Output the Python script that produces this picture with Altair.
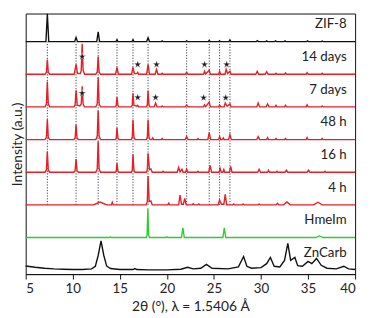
import altair as alt
import pandas as pd

# ---------------- data ----------------
TRACE_NAMES = ["ZIF-8", "14 days", "7 days", "48 h", "16 h", "4 h", "HmeIm", "ZnCarb"]
TRACE_COLORS = ["#111111", "#e41f26", "#e41f26", "#e41f26", "#e41f26", "#e41f26", "#2ecc2e", "#111111"]

# (2theta, relative intensity above each pattern's own baseline)
ZIF8 = [(5.0, 0), (7.15, 0), (7.3, 0.85), (7.45, 0), (10.2, 0), (10.35, 0.13), (10.5, 0),
        (12.55, 0), (12.7, 0.30), (12.85, 0), (14.6, 0), (14.7, 0.06), (14.8, 0),
        (16.3, 0), (16.4, 0.06), (16.5, 0), (17.85, 0), (18.0, 0.12), (18.15, 0),
        (19.4, 0), (19.5, 0.02), (19.6, 0), (22.0, 0), (22.1, 0.03), (22.2, 0),
        (24.4, 0), (24.5, 0.04), (24.6, 0), (25.5, 0), (25.6, 0.03), (25.7, 0),
        (26.6, 0), (26.7, 0.05), (26.8, 0), (29.5, 0), (29.6, 0.03), (29.75, 0),
        (30.5, 0), (30.6, 0.02), (30.7, 0), (31.45, 0), (31.55, 0.02), (31.65, 0),
        (32.45, 0), (32.55, 0.02), (32.65, 0), (34.85, 0), (34.95, 0.02), (35.05, 0),
        (36.4, 0), (36.5, 0.015), (36.6, 0), (40.0, 0)]

D14 = [(5.0, 0), (7.05, 0), (7.2, 0.06), (7.3, 0.45), (7.4, 0.06), (7.55, 0),
       (10.15, 0), (10.35, 0.30), (10.5, 0.03), (10.8, 0.02), (10.9, 0.12), (11.0, 0.93),
       (11.1, 0.12), (11.25, 0), (12.45, 0), (12.6, 0.07), (12.7, 0.54), (12.8, 0.07),
       (12.95, 0), (14.55, 0), (14.7, 0.21), (14.85, 0), (16.25, 0), (16.4, 0.21),
       (16.55, 0.02), (16.8, 0.02), (16.9, 0.06), (17.0, 0), (17.85, 0), (18.0, 0.30),
       (18.15, 0), (18.75, 0), (18.9, 0.15), (19.05, 0), (19.4, 0), (19.5, 0.03),
       (19.6, 0), (21.95, 0), (22.1, 0.06), (22.25, 0), (23.9, 0), (24.0, 0.09),
       (24.12, 0.01), (24.5, 0.12), (24.62, 0), (25.5, 0), (25.6, 0.09), (25.72, 0),
       (26.18, 0), (26.3, 0.15), (26.45, 0.02), (26.7, 0.09), (26.82, 0), (29.45, 0),
       (29.6, 0.09), (29.75, 0), (30.45, 0), (30.6, 0.08), (30.75, 0), (31.5, 0),
       (31.6, 0.03), (31.7, 0), (32.5, 0), (32.6, 0.04), (32.7, 0), (34.8, 0),
       (34.9, 0.05), (35.0, 0), (36.4, 0), (36.5, 0.03), (36.6, 0), (40.0, 0)]

D7 = [(5.0, 0), (7.05, 0), (7.2, 0.09), (7.3, 0.78), (7.4, 0.09), (7.55, 0),
      (10.12, 0), (10.25, 0.06), (10.35, 0.51), (10.48, 0.05), (10.75, 0.03),
      (10.9, 0.09), (11.0, 0.63), (11.1, 0.09), (11.25, 0), (12.45, 0), (12.6, 0.1),
      (12.7, 0.90), (12.8, 0.1), (12.95, 0), (14.52, 0), (14.62, 0.04), (14.7, 0.30),
      (14.8, 0.04), (14.9, 0), (16.22, 0), (16.32, 0.05), (16.4, 0.42), (16.5, 0.05),
      (16.8, 0.02), (16.9, 0.05), (17.0, 0), (17.82, 0), (17.92, 0.06), (18.0, 0.50),
      (18.1, 0.06), (18.2, 0), (18.65, 0), (18.8, 0.12), (18.95, 0), (19.4, 0),
      (19.5, 0.03), (19.6, 0), (21.95, 0), (22.1, 0.06), (22.25, 0), (23.9, 0),
      (24.0, 0.06), (24.12, 0.01), (24.5, 0.15), (24.62, 0), (25.5, 0), (25.6, 0.06),
      (25.72, 0), (26.08, 0), (26.2, 0.12), (26.4, 0.02), (26.7, 0.09), (26.82, 0),
      (29.55, 0), (29.7, 0.12), (29.85, 0), (30.55, 0), (30.7, 0.09), (30.85, 0),
      (31.5, 0), (31.6, 0.05), (31.7, 0), (32.5, 0), (32.6, 0.05), (32.7, 0),
      (34.8, 0), (34.9, 0.06), (35.0, 0), (36.4, 0), (36.5, 0.03), (36.6, 0), (40.0, 0)]

H48 = [(5.0, 0), (7.05, 0), (7.2, 0.07), (7.3, 0.62), (7.4, 0.07), (7.55, 0),
       (10.12, 0), (10.25, 0.05), (10.35, 0.45), (10.45, 0.05), (10.6, 0),
       (12.45, 0), (12.6, 0.1), (12.7, 0.88), (12.8, 0.1), (12.95, 0), (14.52, 0),
       (14.62, 0.04), (14.7, 0.36), (14.8, 0.04), (14.9, 0), (16.22, 0), (16.32, 0.07),
       (16.4, 0.60), (16.5, 0.07), (16.62, 0), (17.82, 0), (17.92, 0.07), (18.0, 0.60),
       (18.1, 0.07), (18.22, 0), (18.4, 0), (18.5, 0.05), (18.6, 0), (19.4, 0),
       (19.5, 0.03), (19.6, 0), (21.95, 0), (22.1, 0.09), (22.25, 0), (23.2, 0),
       (23.3, 0.03), (23.4, 0), (24.35, 0), (24.5, 0.21), (24.65, 0), (25.5, 0),
       (25.6, 0.09), (25.72, 0), (25.9, 0), (26.0, 0.05), (26.1, 0), (26.55, 0),
       (26.7, 0.15), (26.85, 0), (29.55, 0), (29.7, 0.09), (29.85, 0), (30.6, 0),
       (30.7, 0.06), (30.8, 0), (31.5, 0), (31.6, 0.03), (31.7, 0), (32.5, 0),
       (32.6, 0.03), (32.7, 0), (34.8, 0), (34.9, 0.06), (35.0, 0), (36.4, 0),
       (36.5, 0.03), (36.6, 0), (40.0, 0)]

H16 = [(5.0, 0), (7.05, 0), (7.2, 0.07), (7.3, 0.63), (7.4, 0.07), (7.55, 0),
       (10.12, 0), (10.25, 0.05), (10.35, 0.40), (10.45, 0.05), (10.6, 0),
       (12.45, 0), (12.6, 0.1), (12.7, 0.95), (12.8, 0.1), (12.95, 0), (14.52, 0),
       (14.62, 0.03), (14.7, 0.28), (14.8, 0.03), (14.9, 0), (16.22, 0), (16.32, 0.06),
       (16.4, 0.55), (16.5, 0.06), (16.62, 0), (17.82, 0), (17.92, 0.07), (18.0, 0.58),
       (18.15, 0.08), (18.3, 0.10), (18.45, 0), (19.5, 0), (19.6, 0.03), (19.7, 0),
       (21.1, 0), (21.25, 0.15), (21.4, 0.01), (21.6, 0.09), (21.72, 0), (21.98, 0),
       (22.1, 0.09), (22.22, 0), (23.2, 0), (23.3, 0.03), (23.4, 0), (24.45, 0),
       (24.6, 0.21), (24.75, 0), (25.55, 0), (25.65, 0.12), (25.78, 0), (25.95, 0),
       (26.05, 0.08), (26.15, 0), (26.65, 0), (26.78, 0.18), (26.92, 0), (29.65, 0),
       (29.8, 0.09), (29.95, 0), (30.7, 0), (30.8, 0.06), (30.9, 0), (31.6, 0),
       (31.7, 0.03), (31.8, 0), (32.55, 0), (32.7, 0.06), (32.85, 0), (34.9, 0),
       (35.05, 0.06), (35.2, 0), (36.7, 0), (36.8, 0.03), (36.9, 0), (40.0, 0)]

H4 = [(5.0, 0), (12.2, 0), (12.6, 0.05), (12.9, 0.09), (13.2, 0.05), (13.6, 0),
      (14.1, 0), (14.2, 0.08), (14.3, 0), (17.8, 0), (17.92, 0.1), (18.0, 0.88),
      (18.12, 0.1), (18.3, 0.12), (18.45, 0), (20.1, 0), (20.2, 0.05), (20.3, 0),
      (21.25, 0), (21.4, 0.30), (21.55, 0.02), (21.75, 0.02), (21.9, 0.20), (22.05, 0),
      (22.7, 0), (22.8, 0.04), (22.9, 0), (23.3, 0), (23.4, 0.03), (23.5, 0),
      (25.45, 0), (25.6, 0.15), (25.8, 0.02), (26.05, 0.02), (26.2, 0.32), (26.35, 0),
      (27.0, 0), (27.1, 0.03), (27.2, 0), (28.0, 0), (28.1, 0.03), (28.2, 0),
      (29.7, 0), (29.8, 0.03), (29.9, 0), (31.6, 0), (31.75, 0.05), (31.9, 0),
      (32.4, 0), (32.75, 0.09), (33.1, 0), (35.6, 0), (36.05, 0.08), (36.5, 0), (40.0, 0)]

HMEIM = [(5.0, 0), (13.9, 0), (14.0, 0.02), (14.1, 0), (17.82, 0), (17.9, 0.08),
         (17.98, 0.90), (18.06, 0.08), (18.15, 0), (19.9, 0), (20.0, 0.02), (20.1, 0),
         (21.55, 0), (21.7, 0.30), (21.85, 0), (25.95, 0), (26.1, 0.30), (26.25, 0),
         (35.8, 0), (36.2, 0.05), (36.6, 0), (40.0, 0)]

ZNCARB = [(5.0, 0.13), (6.0, 0.09), (7.0, 0.06), (8.0, 0.04), (9.0, 0.03), (10.0, 0.02),
          (11.0, 0.02), (12.0, 0.04), (12.4, 0.12), (12.7, 0.45), (13.0, 0.90), (13.3, 0.45),
          (13.6, 0.13), (14.0, 0.05), (15.0, 0.02), (16.4, 0.02), (16.6, 0.05), (16.8, 0.02),
          (18.0, 0.01), (20.0, 0.01), (21.5, 0.03), (22.2, 0.09), (22.8, 0.04), (23.6, 0.06),
          (24.2, 0.18), (24.8, 0.06), (26.5, 0.04), (27.6, 0.10), (28.15, 0.42), (28.5, 0.12),
          (29.0, 0.06), (30.0, 0.08), (30.6, 0.20), (31.0, 0.39), (31.4, 0.12), (32.0, 0.10),
          (32.5, 0.30), (32.85, 0.82), (33.15, 0.30), (33.6, 0.39), (33.9, 0.14), (34.4, 0.12),
          (35.0, 0.27), (35.4, 0.20), (35.9, 0.36), (36.4, 0.15), (37.0, 0.06), (38.0, 0.04),
          (38.8, 0.12), (39.3, 0.04), (40.0, 0.02)]

PATTERNS = [ZIF8, D14, D7, H48, H16, H4, HMEIM, ZNCARB]

# ZIF-8 reflection positions (dotted guide lines)
REF_LINES = [7.3, 10.35, 12.7, 14.7, 16.4, 18.0, 22.1, 24.5, 25.6, 26.7]

# impurity stars: (pattern, 2theta, height above baseline)
STAR_TRACE = ["14 days", "14 days", "14 days", "14 days", "14 days",
              "7 days", "7 days", "7 days", "7 days", "7 days"]
STAR_X = [11.0, 16.9, 18.9, 24.0, 26.35, 11.0, 16.9, 18.8, 23.9, 26.25]
STAR_H = [0.54, 0.30, 0.30, 0.30, 0.30, 0.42, 0.29, 0.29, 0.28, 0.28]

X_TICKS = [5, 10, 15, 20, 25, 30, 35, 40]

# ---------------- layout ----------------
N = len(TRACE_NAMES)
BASE0 = 0.12
offsets = {name: BASE0 + (N - 1 - i) for i, name in enumerate(TRACE_NAMES)}

rows = []
for i, (name, pts) in enumerate(zip(TRACE_NAMES, PATTERNS)):
    for (x, y) in pts:
        rows.append({"name": name, "x": float(x), "y": float(y) + offsets[name]})
df = pd.DataFrame(rows)

lab_df = pd.DataFrame({"name": TRACE_NAMES,
                       "x": [39.1] * N,
                       "y": [offsets[n] + 0.53 for n in TRACE_NAMES]})

ref_df = pd.DataFrame({"x": REF_LINES,
                       "y": [offsets["4 h"]] * len(REF_LINES),
                       "y2": [offsets["ZIF-8"]] * len(REF_LINES)})

star_df = pd.DataFrame({"x": STAR_X,
                        "y": [offsets[t] + h for t, h in zip(STAR_TRACE, STAR_H)]})

STAR_PATH = ("M0,-1L0.2245,-0.309L0.951,-0.309L0.3633,0.118L0.5878,0.809L0,0.382"
             "L-0.5878,0.809L-0.3633,0.118L-0.951,-0.309L-0.2245,-0.309Z")

FONT = "Lato"
xs = alt.Scale(domain=[5, 40], nice=False, zero=False)
ys = alt.Scale(domain=[0, 7.98], nice=False, zero=False)

X_ENC = alt.X("x:Q", scale=xs, title="2θ (°),  λ = 1.5406 Å",
              axis=alt.Axis(values=X_TICKS, grid=False, tickSize=5))
Y_ENC = alt.Y("y:Q", scale=ys, title="Intensity (a.u.)",
              axis=alt.Axis(labels=False, ticks=False, grid=False, domain=False))

guides = alt.Chart(ref_df).mark_rule(color="#3a3f4a", strokeWidth=1,
                                      strokeDash=[1.2, 1.6]).encode(
    x=X_ENC, y=Y_ENC, y2="y2:Q",
)

lines = alt.Chart(df).mark_line(strokeWidth=1.4).encode(
    x=X_ENC, y=Y_ENC,
    color=alt.Color("name:N", scale=alt.Scale(domain=TRACE_NAMES, range=TRACE_COLORS),
                    legend=None),
)

stars = alt.Chart(star_df).mark_point(shape=STAR_PATH, filled=True, color="#1e1e1e",
                                       size=64, opacity=1, stroke="#ffffff",
                                       strokeWidth=0.4).encode(x=X_ENC, y=Y_ENC)

labels = alt.Chart(lab_df).mark_text(align="right", baseline="middle", font=FONT,
                                      fontSize=13.5, color="#222").encode(
    x=X_ENC, y=Y_ENC, text="name:N",
)

chart = alt.layer(guides, lines, stars, labels).properties(
    width=335, height=265,
    padding={"left": 3, "top": 0, "right": 4, "bottom": 0},
).configure_view(
    stroke="#111", strokeWidth=1
).configure_axis(
    labelFont=FONT, labelFontSize=13.5, labelColor="#222", labelPadding=3,
    titleFont=FONT, titleFontSize=14, titleColor="#222", titleFontWeight="normal",
    domainColor="#111", tickColor="#111",
).configure_axisX(titlePadding=5).configure_axisY(titlePadding=1)

chart.save("out.html", embed_options={"renderer": "svg", "actions": False})
